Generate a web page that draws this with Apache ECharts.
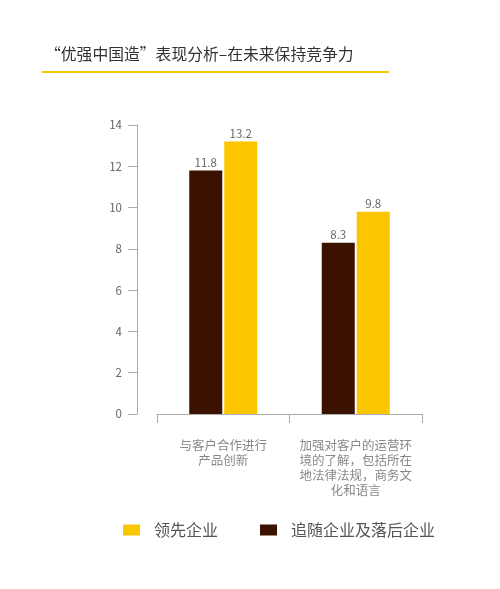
<!DOCTYPE html>
<html lang="zh-CN">
<head>
  <meta charset="UTF-8">
  <title>优强中国造</title>
  <script src="https://cdn.jsdelivr.net/npm/echarts@6/dist/echarts.min.js"></script>
  <style>
    html, body { margin: 0; padding: 0; background: #fff; }
  </style>
</head>
<body>
  <div id="chart" style="width: 500px; height: 589px;"></div>
  <script>
    // 数据
    var categories = ['与客户合作进行\n产品创新', '加强对客户的运营环\n境的了解，包括所在\n地法律法规，商务文\n化和语言'];
    var followerValues = [11.8, 8.3];   // 追随企业及落后企业
    var leaderValues = [13.2, 9.8];     // 领先企业
    var seriesNames = ['追随企业及落后企业', '领先企业'];
    var legendOrder = ['领先企业', '追随企业及落后企业'];

    var FONT = '"Noto Sans CJK SC", "Noto Sans", sans-serif';
    var DARK = '#3b1100';
    var YELLOW = '#fbc500';

    var chart = echarts.init(document.getElementById('chart'));

    var option = {
      animation: false,
      textStyle: { fontFamily: FONT },
      title: {
        text: '“优强中国造”表现分析–在未来保持竞争力',
        left: 40,
        top: 41,
        textStyle: { fontSize: 15.8, fontWeight: 'normal', color: '#333', fontFamily: FONT }
      },
      graphic: [{
        type: 'line',
        shape: { x1: 42, y1: 72, x2: 389, y2: 72 },
        style: { stroke: YELLOW, lineWidth: 2 }
      }],
      legend: {
        data: legendOrder,
        left: 118,
        top: 517,
        itemWidth: 17,
        itemHeight: 11,
        itemGap: 42,
        icon: 'rect',
        textStyle: { fontSize: 16, color: '#555', fontFamily: FONT, padding: [0, 0, 0, 9] }
      },
      grid: { left: 157, right: 78, top: 125, bottom: 175 },
      xAxis: {
        type: 'category',
        data: categories,
        offset: 11,
        axisLine: { lineStyle: { color: '#aaa' } },
        axisTick: { show: true, interval: 0, length: 9, lineStyle: { color: '#aaa' } },
        axisLabel: { interval: 0, color: '#888', fontSize: 12.5, lineHeight: 15, margin: 13, fontFamily: FONT }
      },
      yAxis: {
        type: 'value',
        min: 0,
        max: 14,
        interval: 2,
        offset: 20,
        splitLine: { show: false },
        axisLine: { show: true, lineStyle: { color: '#aaa' } },
        axisTick: { show: true, length: 9, lineStyle: { color: '#aaa' } },
        axisLabel: { color: '#666', fontSize: 11.5, margin: 15, fontFamily: FONT }
      },
      series: [
        {
          name: seriesNames[0],
          type: 'bar',
          data: followerValues,
          barWidth: 33,
          barGap: '6%',
          itemStyle: { color: DARK },
          label: { show: true, position: 'top', distance: 2, color: '#666', fontSize: 11.5 }
        },
        {
          name: seriesNames[1],
          type: 'bar',
          data: leaderValues,
          barWidth: 33,
          barGap: '6%',
          itemStyle: { color: YELLOW },
          label: { show: true, position: 'top', distance: 2, color: '#666', fontSize: 11.5 }
        }
      ]
    };

    chart.setOption(option);
  </script>
</body>
</html>
